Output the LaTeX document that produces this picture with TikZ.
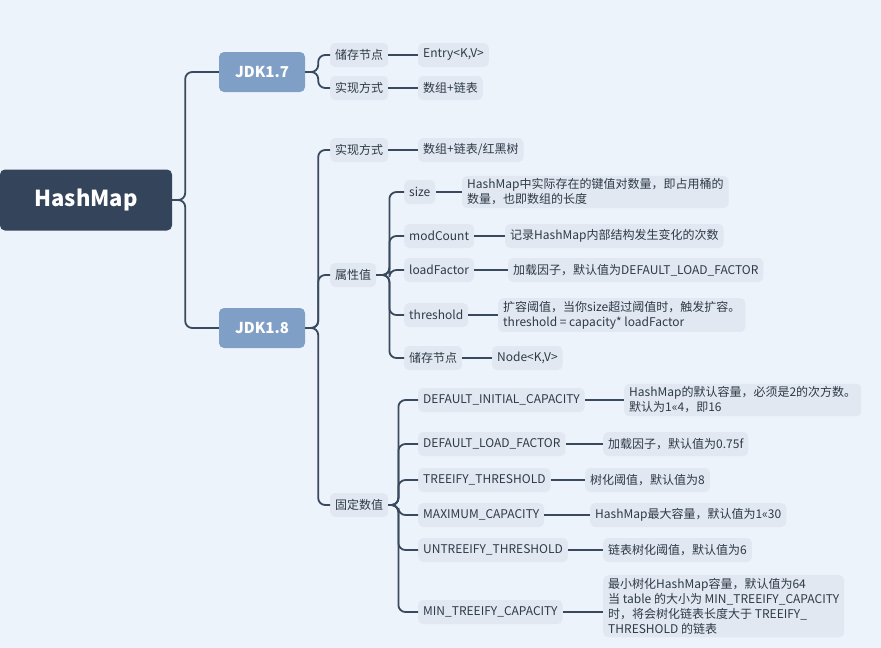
\documentclass[tikz,border=0pt]{standalone}
\usepackage{fontspec}
\setmainfont{Noto Sans CJK SC}
\usetikzlibrary{calc}
\definecolor{bg}{HTML}{EDF3FA}
\definecolor{leaf}{HTML}{E1E8F1}
\definecolor{ln}{HTML}{3A4A5E}
\definecolor{root}{HTML}{34445A}
\definecolor{sub}{HTML}{7F9FC6}
\definecolor{tx}{HTML}{2E3A48}
\begin{document}
\begin{tikzpicture}[x=1pt,y=-1pt,
  lf/.style={anchor=west,fill=leaf,rounded corners=5pt,inner xsep=5pt,inner ysep=3pt,minimum height=24pt,text=tx,font=\fontsize{12}{15}\selectfont,align=left},
  br/.style={draw=ln,line width=1.8pt,rounded corners=7pt},
  ld/.style={draw=ln,line width=1.8pt}]
\fill[bg] (0,0) rectangle (881,648);
\useasboundingbox (0,0) rectangle (881,648);
\node[fill=root,rounded corners=5pt,text=white,font=\fontsize{22}{26}\bfseries\selectfont,minimum width=172pt,minimum height=61pt] (hm) at (86,200) {HashMap};
\node[fill=sub,rounded corners=5pt,text=white,font=\fontsize{15}{18}\bfseries\selectfont,minimum width=86pt,minimum height=40pt] (j7) at (262,72) {JDK1.7};
\node[fill=sub,rounded corners=5pt,text=white,font=\fontsize{15}{18}\bfseries\selectfont,minimum width=86pt,minimum height=40pt] (j8) at (262,328) {JDK1.8};
% JDK1.7
\node[lf] (a1) at (330,55) {储存节点};
\node[lf] (a1v) at (418,55) {Entry<K,V>};
\node[lf] (a2) at (330,88) {实现方式};
\node[lf] (a2v) at (418,88) {数组+链表};
% JDK1.8
\node[lf] (b1) at (330,150) {实现方式};
\node[lf] (b1v) at (418,150) {数组+链表/红黑树};
\node[lf] (b2) at (330,275) {属性值};
\node[lf] (b3) at (330,505) {固定数值};
% 属性值
\node[lf] (p1) at (404,192) {size};
\node[lf] (p1v) at (462,192) {HashMap中实际存在的键值对数量，即占用桶的\\数量，也即数组的长度};
\node[lf] (p2) at (404,236) {modCount};
\node[lf] (p2v) at (505,236) {记录HashMap内部结构发生变化的次数};
\node[lf] (p3) at (404,270) {loadFactor};
\node[lf] (p3v) at (508,270) {加载因子，默认值为DEFAULT\_LOAD\_FACTOR};
\node[lf] (p4) at (404,315) {threshold};
\node[lf] (p4v) at (498,315) {扩容阈值，当你size超过阈值时，触发扩容。\\threshold = capacity* loadFactor};
\node[lf] (p5) at (404,358) {储存节点};
\node[lf] (p5v) at (492,358) {Node<K,V>};
% 固定数值
\node[lf] (f1) at (418,400) {DEFAULT\_INITIAL\_CAPACITY};
\node[lf] (f1v) at (624,400) {HashMap的默认容量，必须是2的次方数。\\默认为1<<4，即16};
\node[lf] (f2) at (418,444) {DEFAULT\_LOAD\_FACTOR};
\node[lf] (f2v) at (603,444) {加载因子，默认值为0.75f};
\node[lf] (f3) at (418,480) {TREEIFY\_THRESHOLD};
\node[lf] (f3v) at (585,480) {树化阈值，默认值为8};
\node[lf] (f4) at (418,515) {MAXIMUM\_CAPACITY};
\node[lf] (f4v) at (590,515) {HashMap最大容量，默认值为1<<30};
\node[lf] (f5) at (418,550) {UNTREEIFY\_THRESHOLD};
\node[lf] (f5v) at (603,550) {链表树化阈值，默认值为6};
\node[lf] (f6) at (418,612) {MIN\_TREEIFY\_CAPACITY};
\node[lf,anchor=north west] (f6v) at (603,575) {最小树化HashMap容量，默认值为64\\当 table 的大小为 MIN\_TREEIFY\_CAPACITY\\时，将会树化链表长度大于 TREEIFY\_\\THRESHOLD 的链表};
% brackets
\foreach \c in {j7,j8} \draw[br] (hm.east) -- ($(hm.east)+(13,0)$) |- (\c.west);
\foreach \c in {a1,a2} \draw[br] (j7.east) -- ($(j7.east)+(13,0)$) |- (\c.west);
\foreach \c in {b1,b2,b3} \draw[br] (j8.east) -- ($(j8.east)+(13,0)$) |- (\c.west);
\foreach \c in {p1,p2,p3,p4,p5} \draw[br] (b2.east) -- ($(b2.east)+(13,0)$) |- (\c.west);
\foreach \c in {f1,f2,f3,f4,f5,f6} \draw[br] (b3.east) -- ($(b3.east)+(10,0)$) |- (\c.west);
% leaf lines
\foreach \a/\b in {a1/a1v,a2/a2v,b1/b1v,p1/p1v,p2/p2v,p3/p3v,p4/p4v,p5/p5v,f1/f1v,f2/f2v,f3/f3v,f4/f4v,f5/f5v}
  \draw[ld] (\a.east) -- (\b.west);
\draw[ld] (f6.east) -- (f6.east -| f6v.west);
\end{tikzpicture}
\end{document}
